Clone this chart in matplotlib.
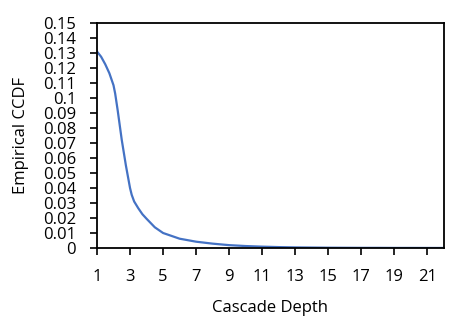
import matplotlib
matplotlib.use("Agg")
import matplotlib.pyplot as plt

# cascade depth vs empirical CCDF
depth = [1, 1.25, 1.5, 1.75, 2, 2.1, 2.25, 2.5, 2.75, 2.9, 3, 3.1, 3.25, 3.5,
         3.75, 4, 4.5, 5, 6, 7, 8, 9, 10, 11, 12, 13, 14, 15, 16, 17, 18, 19,
         20, 21, 22]
ccdf = [0.131, 0.1275, 0.1225, 0.1165, 0.1085, 0.103, 0.092, 0.072, 0.055,
        0.046, 0.040, 0.0355, 0.031, 0.0265, 0.0225, 0.0195, 0.0138, 0.010,
        0.0062, 0.0042, 0.0029, 0.0019, 0.0013, 0.0009, 0.0006, 0.0004,
        0.0003, 0.0002, 0.00015, 0.0001, 0.0001, 0.00005, 0.00005, 0.00003,
        0.00002]
xticks = list(range(1, 22, 2))
yticks = [i / 100 for i in range(0, 16)]
ylabels = ["0" if v == 0 else ("0.1" if abs(v - 0.1) < 1e-9 else f"{v:.2f}") for v in yticks]

plt.rcParams.update({"font.family": ["Open Sans", "DejaVu Sans"], "font.size": 12})

fig = plt.figure(figsize=(4.74, 3.23), dpi=100)
ax = fig.add_axes([0.2046, 0.2322, 0.7321, 0.6966])
ax.plot(depth, ccdf, color="#4472C4", lw=1.6, solid_joinstyle="round")

ax.set_xlim(1, 22)
ax.set_ylim(0, 0.15)
ax.set_xticks(xticks)
ax.set_yticks(yticks)
ax.set_yticklabels(ylabels)
ax.tick_params(axis="both", direction="out", length=5, width=1.2, color="black")
ax.tick_params(axis="y", pad=10)
ax.tick_params(axis="x", pad=10)
for s in ax.spines.values():
    s.set_color("black")
    s.set_linewidth(1.3)

ax.set_xlabel("Cascade Depth", labelpad=11)
ax.set_ylabel("Empirical CCDF", labelpad=10)

fig.savefig("out.png", dpi=100, facecolor="white")
